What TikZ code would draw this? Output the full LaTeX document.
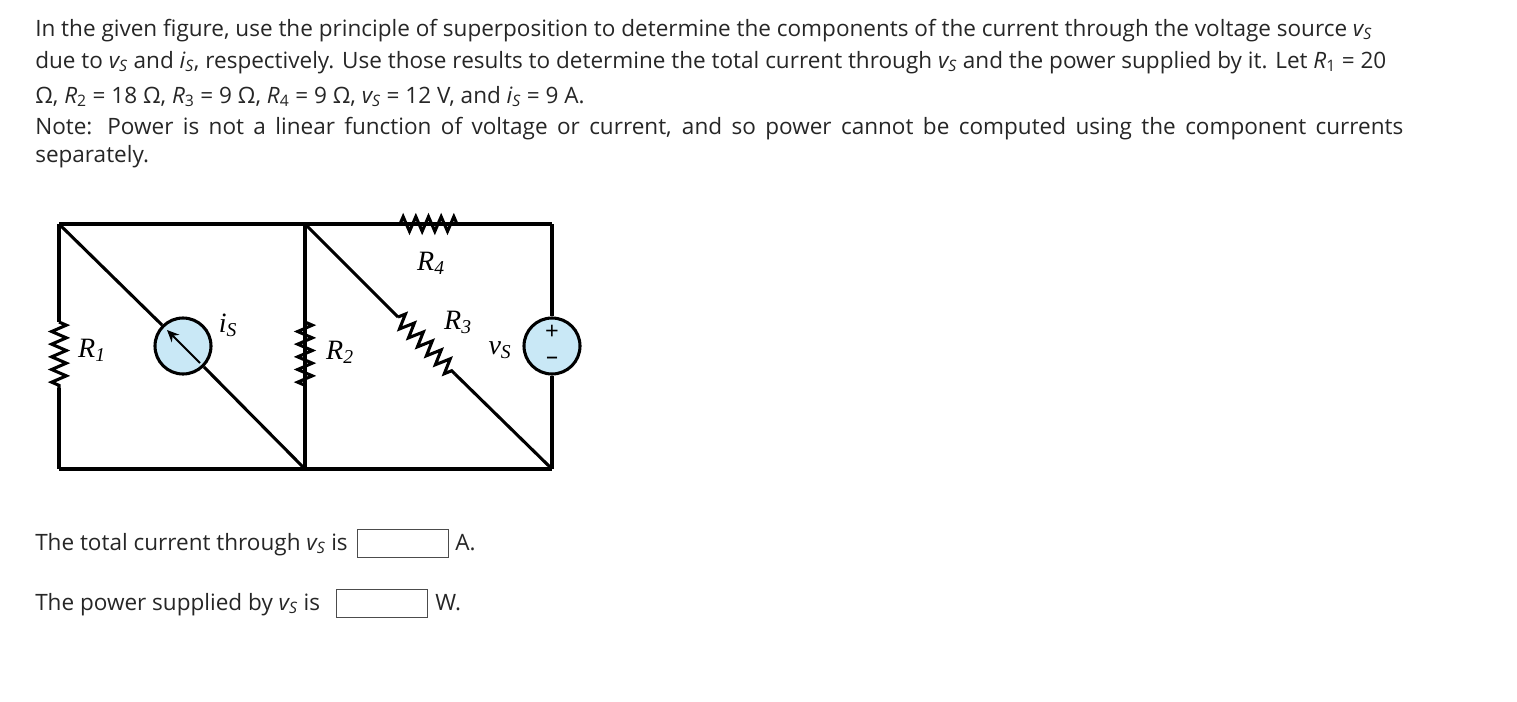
\documentclass[tikz,border=0pt]{standalone}
\usepackage{fontspec}
\setmainfont{Open Sans}
\newfontfamily\cirfont{Liberation Serif}
\usetikzlibrary{decorations.pathmorphing,arrows.meta}
\definecolor{srcfill}{HTML}{C9E8F6}
\begin{document}
\begin{tikzpicture}[x=0.75pt,y=-0.75pt,
  txt/.style={anchor=base west,inner sep=0,font=\fontsize{16.9}{20}\selectfont,text=black!85},
  wire/.style={line width=2.3pt},
  res/.style={wire,decorate,decoration={zigzag,segment length=9.5pt,amplitude=5.5pt}},
  src/.style={circle,draw,line width=2.3pt,fill=srcfill,minimum size=42pt,inner sep=0},
  lab/.style={font=\cirfont\itshape\fontsize{21}{22}\selectfont,inner sep=1pt},
  ansbox/.style={draw=black!70,line width=0.6pt,minimum width=68pt,minimum height=21pt,inner sep=0}]
\useasboundingbox (0,0) rectangle (1517,701);
\newcommand{\vs}{\textit{v\textsubscript{S}}}
\newcommand{\is}{\textit{i\textsubscript{S}}}
\node[txt] (l1) at (35,36) {In the given figure, use the principle of superposition to determine the components of the current through the voltage source \vs};
\node[txt] (l2) at (35,68) {due to \vs\ and \is, respectively. Use those results to determine the total current through \vs\ and the power supplied by it. Let \textit{R}\textsubscript{1} = 20};
\node[txt] (l3) at (35,103) {Ω, \textit{R}\textsubscript{2} = 18 Ω, \textit{R}\textsubscript{3} = 9 Ω, \textit{R}\textsubscript{4} = 9 Ω, \vs\ = 12 V, and \is\ = 9 A.};
\node[txt,anchor=north west,text width=1368*0.75pt,align=justify,font=\fontsize{16.9}{21}\selectfont] (l4) at (35,117) {Note: Power is not a linear function of voltage or current, and so power cannot be computed using the component currents\linebreak separately.};
% circuit
\coordinate (TL) at (59,224); \coordinate (TM) at (305,224); \coordinate (TR) at (552,224);
\coordinate (BL) at (59,469); \coordinate (BM) at (305,469); \coordinate (BR) at (552,469);
\node[src] (is) at (183,346) {};
\node[src] (vs) at (552,346) {};
\draw[wire] (TL) -- (TR) (BL) -- (BR) (TM) -- (BM);
\draw[wire] (TL) -- (59,322) (59,388) -- (BL);
\draw[res] (59,322) -- (59,388);
\draw[res] (305,322) -- (305,388);
\draw[wire] (TR) -- (vs.north) (vs.south) -- (BR);
\draw[wire] (TL) -- (is.north west) (is.south east) -- (BM);
\draw[wire] (TM) -- (398,317) (455,374) -- (BR);
\draw[res] (398,317) -- (455,374);
\draw[wire] (TM) -- (400,224);
\draw[res] (400,224) -- (460,224);
\draw[-{Stealth[length=9pt,width=8pt]},line width=1.4pt] (200,363) -- (167,330);
\node[font=\fontsize{18}{18}\selectfont] at (552,332) {+};
\node[font=\fontsize{18}{18}\selectfont] at (552,361) {\textendash};
\node[lab] (r1) at (92,350) {R\textsubscript{1}};
\node[lab] (r2) at (340,352) {R\textsubscript{2}};
\node[lab] (r3) at (458,322) {R\textsubscript{3}};
\node[lab] (r4) at (431,263) {R\textsubscript{4}};
\node[lab] (isl) at (228,325) {i\textsubscript{S}};
\node[lab] (vsl) at (500,350) {v\textsubscript{S}};
% answers
\node[txt] (a1) at (35,550) {The total current through \vs\ is};
\node[ansbox,anchor=north west] (b1) at (357,529) {};
\node[txt] (u1) at (455,550) {A.};
\node[txt] (a2) at (35,610) {The power supplied by \vs\ is};
\node[ansbox,anchor=north west] (b2) at (336,589) {};
\node[txt] (u2) at (435,610) {W.};
\end{tikzpicture}
\end{document}
